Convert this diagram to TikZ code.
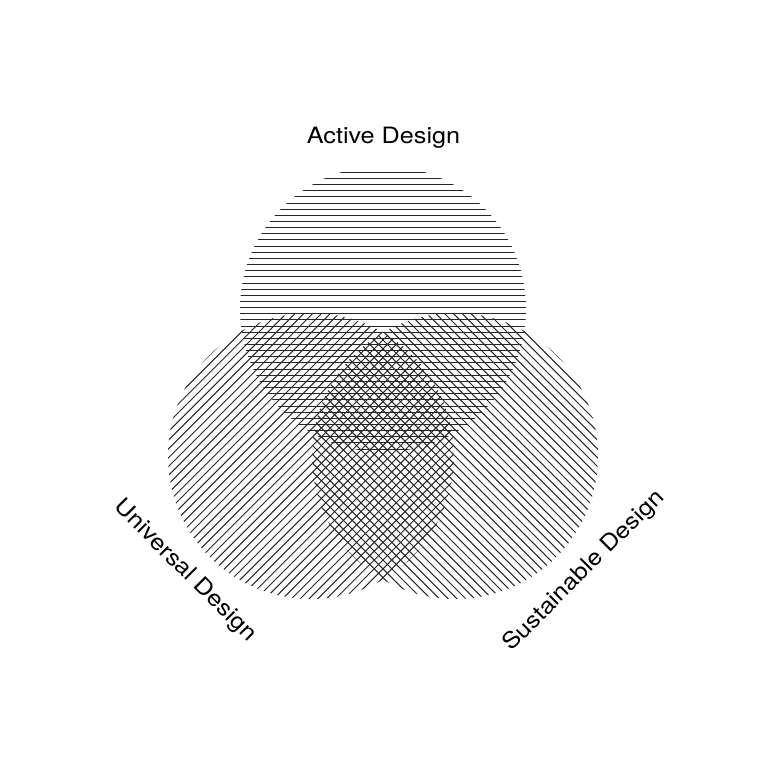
\documentclass[tikz,border=0pt]{standalone}
\usepackage{fontspec}
\setmainfont[FakeStretch=1.12]{TeX Gyre Heros}
\usetikzlibrary{calc}

\begin{document}
\begin{tikzpicture}[x=1pt,y=-1pt,
    hatch/.style={line width=1pt,black!85},
    designlabel/.style={font=\fontsize{22.5}{27}\selectfont}]
  \useasboundingbox (0,0) rectangle (768,768);
  \coordinate (d1) at (383,309);
  \coordinate (d2) at (311,456);
  \coordinate (d3) at (455,456);
  % horizontal lines
  \begin{scope}
    \clip (d1) circle[radius=143];
    \foreach \k in {0,...,46}
      \draw[hatch] ($(d1)+(-150,-136.7+6.15*\k)$) -- ++(300,0);
  \end{scope}
  % rising lines
  \begin{scope}
    \clip (d2) circle[radius=143];
    \foreach \k in {-23,...,23}
      \draw[hatch] ($(d2)+(\k*4.4-150,\k*4.4+150)$) -- ++(300,-300);
  \end{scope}
  % falling lines
  \begin{scope}
    \clip (d3) circle[radius=143];
    \foreach \k in {-23,...,23}
      \draw[hatch] ($(d3)+(\k*4.4-150,-\k*4.4-150)$) -- ++(300,300);
  \end{scope}
  \node[designlabel] (l1) at (383.5,137.5) {Active Design};
  \node[designlabel, rotate=-45] (l2) at (185,571) {Universal Design};
  \node[designlabel, rotate=45] (l3) at (584,571) {Sustainable Design};
\end{tikzpicture}
\end{document}
